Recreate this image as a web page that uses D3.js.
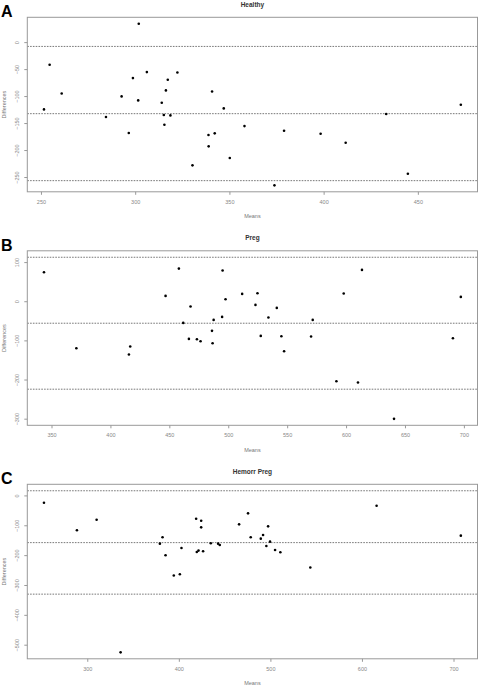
<!DOCTYPE html>
<html>
<head>
<meta charset="utf-8">
<script src="https://cdn.jsdelivr.net/npm/d3@7"></script>
<style>
  body { margin: 0; background: #fff; }
  text { font-family: Arial, "Liberation Sans", sans-serif; }
</style>
</head>
<body>
<div id="chart"></div>
<script>
// panel A - healthy
const healthyMeans = [301.9, 254.6, 261.0, 251.6, 284.5, 292.8, 298.8, 306.2, 301.6, 296.6,
    317.3, 322.4, 316.3, 314.1, 315.2, 318.7, 315.5, 330.4, 340.8, 347.0,
    338.9, 342.2, 339.0, 350.2, 358.0, 373.9, 379.0, 398.4, 411.7, 433.2, 444.7, 472.8];
const healthyDiffs = [34.0, -42.0, -95.1, -124.7, -138.9, -100.6, -66.7, -55.6, -108.0, -168.5,
    -69.8, -56.2, -89.5, -112.3, -135.2, -135.8, -153.1, -228.4, -91.4, -122.8,
    -172.2, -169.1, -193.2, -214.8, -155.6, -265.4, -164.2, -169.8, -186.4, -133.3, -243.8, -116.0];
const healthyLines = [-8.0, -132.6, -256.7];

// panel B - preg
const pregMeans = [343.6, 371.1, 416.8, 415.7, 446.8, 458.1, 468.0, 461.8, 466.6, 473.4,
    476.5, 486.2, 487.6, 486.7, 495.2, 494.8, 497.7, 511.8, 524.8, 523.1,
    527.6, 534.1, 541.2, 545.1, 547.4, 570.3, 571.7, 591.8, 598.0, 610.1,
    613.5, 640.7, 690.7, 697.4];
const pregDiffs = [74.0, -120.0, -115.7, -136.2, 13.6, 83.4, -13.6, -55.3, -96.2, -97.0,
    -102.1, -75.7, -47.7, -107.2, 78.3, -40.0, 5.1, 18.7, 20.4, -9.4,
    -88.5, -41.7, -17.0, -89.4, -127.7, -90.2, -47.7, -204.3, 19.6, -207.7,
    80.0, -300.4, -94.5, 11.1];
const pregLines = [112.3, -56.2, -224.7];

// panel C - hemorr preg
const hemMeans = [252.7, 288.7, 310.2, 336.4, 379.3, 382.2, 385.5, 394.5, 401.1, 402.9,
    418.9, 419.6, 421.5, 424.4, 424.4, 426.5, 434.9, 442.9, 444.7, 465.8,
    475.6, 478.5, 489.5, 492.0, 495.6, 497.5, 499.6, 505.1, 510.9, 543.6, 616.0, 708.0];
const hemDiffs = [-24.5, -116.9, -81.3, -525.6, -161.5, -140.3, -200.4, -268.4, -263.9, -175.9,
    -78.0, -189.3, -184.9, -84.6, -106.9, -187.1, -160.4, -161.5, -165.9, -96.9,
    -60.1, -140.3, -144.8, -132.5, -169.3, -103.6, -154.8, -182.6, -190.4, -241.6, -34.5, -134.7];
const hemLines = [15.6, -158.1, -330.7];

const panelLetters = ["A", "B", "C"];
const panelTitles = ["Healthy", "Preg", "Hemorr Preg"];
const xTicks = [[250, 300, 350, 400, 450], [350, 400, 450, 500, 550, 600, 650, 700], [300, 400, 500, 600, 700]];
const yTicks = [[0, -50, -100, -150, -200, -250], [100, 0, -100, -200, -300], [0, -100, -200, -300, -400, -500]];

const panels = [
    {x: healthyMeans, y: healthyDiffs, lines: healthyLines},
    {x: pregMeans, y: pregDiffs, lines: pregLines},
    {x: hemMeans, y: hemDiffs, lines: hemLines}
];

const W = 479, H = 685;
const box = {left: 27.3, right: 477.5, top: 17.3, height: 174.5, step: 233.5};

const svg = d3.select("#chart").append("svg")
    .attr("width", W)
    .attr("height", H);

// R style range: extend 4% each side
function padExtent(vals) {
    let ext = d3.extent(vals);
    let pad = (ext[1] - ext[0]) * 0.04;
    return [ext[0] - pad, ext[1] + pad];
}

panels.forEach((p, i) => {
    let top = box.top + i * box.step,
        bottom = top + box.height;

    let x = d3.scaleLinear().domain(padExtent(p.x)).range([box.left, box.right]);
    let y = d3.scaleLinear().domain(padExtent(p.y.concat(p.lines))).range([bottom, top]);

    let g = svg.append("g");

    // dashed lines: upper limit, mean, lower limit
    g.selectAll("line.ref")
        .data(p.lines)
        .enter()
        .append("line")
        .attr("class", "ref")
        .attr("x1", box.left)
        .attr("x2", box.right)
        .attr("y1", d => y(d))
        .attr("y2", d => y(d))
        .style("stroke", "#555")
        .style("stroke-width", 0.8)
        .style("stroke-dasharray", "1.6,1.2");

    // points
    g.selectAll("circle")
        .data(p.x.map((d, j) => [d, p.y[j]]))
        .enter()
        .append("circle")
        .attr("cx", d => x(d[0]))
        .attr("cy", d => y(d[1]))
        .attr("r", 1.3)
        .style("fill", "#000");

    // box
    g.append("rect")
        .attr("x", box.left)
        .attr("y", top)
        .attr("width", box.right - box.left)
        .attr("height", box.height)
        .style("fill", "none")
        .style("stroke", "#999")
        .style("stroke-width", 1);

    // x axis
    let xAxis = g.append("g")
        .attr("transform", `translate(0, ${bottom})`)
        .call(d3.axisBottom(x).tickValues(xTicks[i]).tickSize(3).tickPadding(5));
    xAxis.select(".domain").remove();
    xAxis.selectAll("line").style("stroke", "#999");
    xAxis.selectAll("text")
        .style("fill", "#888")
        .style("font-size", "5.5px");

    // y axis, labels parallel to axis
    let yAxis = g.append("g")
        .attr("transform", `translate(${box.left}, 0)`)
        .call(d3.axisLeft(y).tickValues(yTicks[i]).tickSize(3));
    yAxis.select(".domain").remove();
    yAxis.selectAll("line").style("stroke", "#999");
    yAxis.selectAll("text")
        .attr("x", 0)
        .attr("dy", null)
        .attr("transform", "translate(-10.6, 0) rotate(-90)")
        .attr("text-anchor", "middle")
        .attr("dominant-baseline", "central")
        .style("fill", "#888")
        .style("font-size", "5.5px");

    // titles and labels
    g.append("text")
        .attr("x", (box.left + box.right) / 2)
        .attr("y", top - 13.3)
        .attr("text-anchor", "middle")
        .attr("dominant-baseline", "central")
        .style("font-weight", "bold")
        .style("font-size", "6.5px")
        .style("fill", "#333")
        .text(panelTitles[i]);

    g.append("text")
        .attr("x", 1)
        .attr("y", top)
        .style("font-weight", "bold")
        .style("font-size", "16px")
        .style("fill", "#000")
        .text(panelLetters[i]);

    g.append("text")
        .attr("transform", `translate(4, ${(top + bottom) / 2}) rotate(-90)`)
        .attr("text-anchor", "middle")
        .attr("dominant-baseline", "central")
        .style("font-size", "5.5px")
        .style("fill", "#777")
        .text("Differences");

    g.append("text")
        .attr("x", (box.left + box.right) / 2)
        .attr("y", bottom + 24.5)
        .attr("text-anchor", "middle")
        .attr("dominant-baseline", "central")
        .style("font-size", "5.5px")
        .style("fill", "#777")
        .text("Means");
});
</script>
</body>
</html>
